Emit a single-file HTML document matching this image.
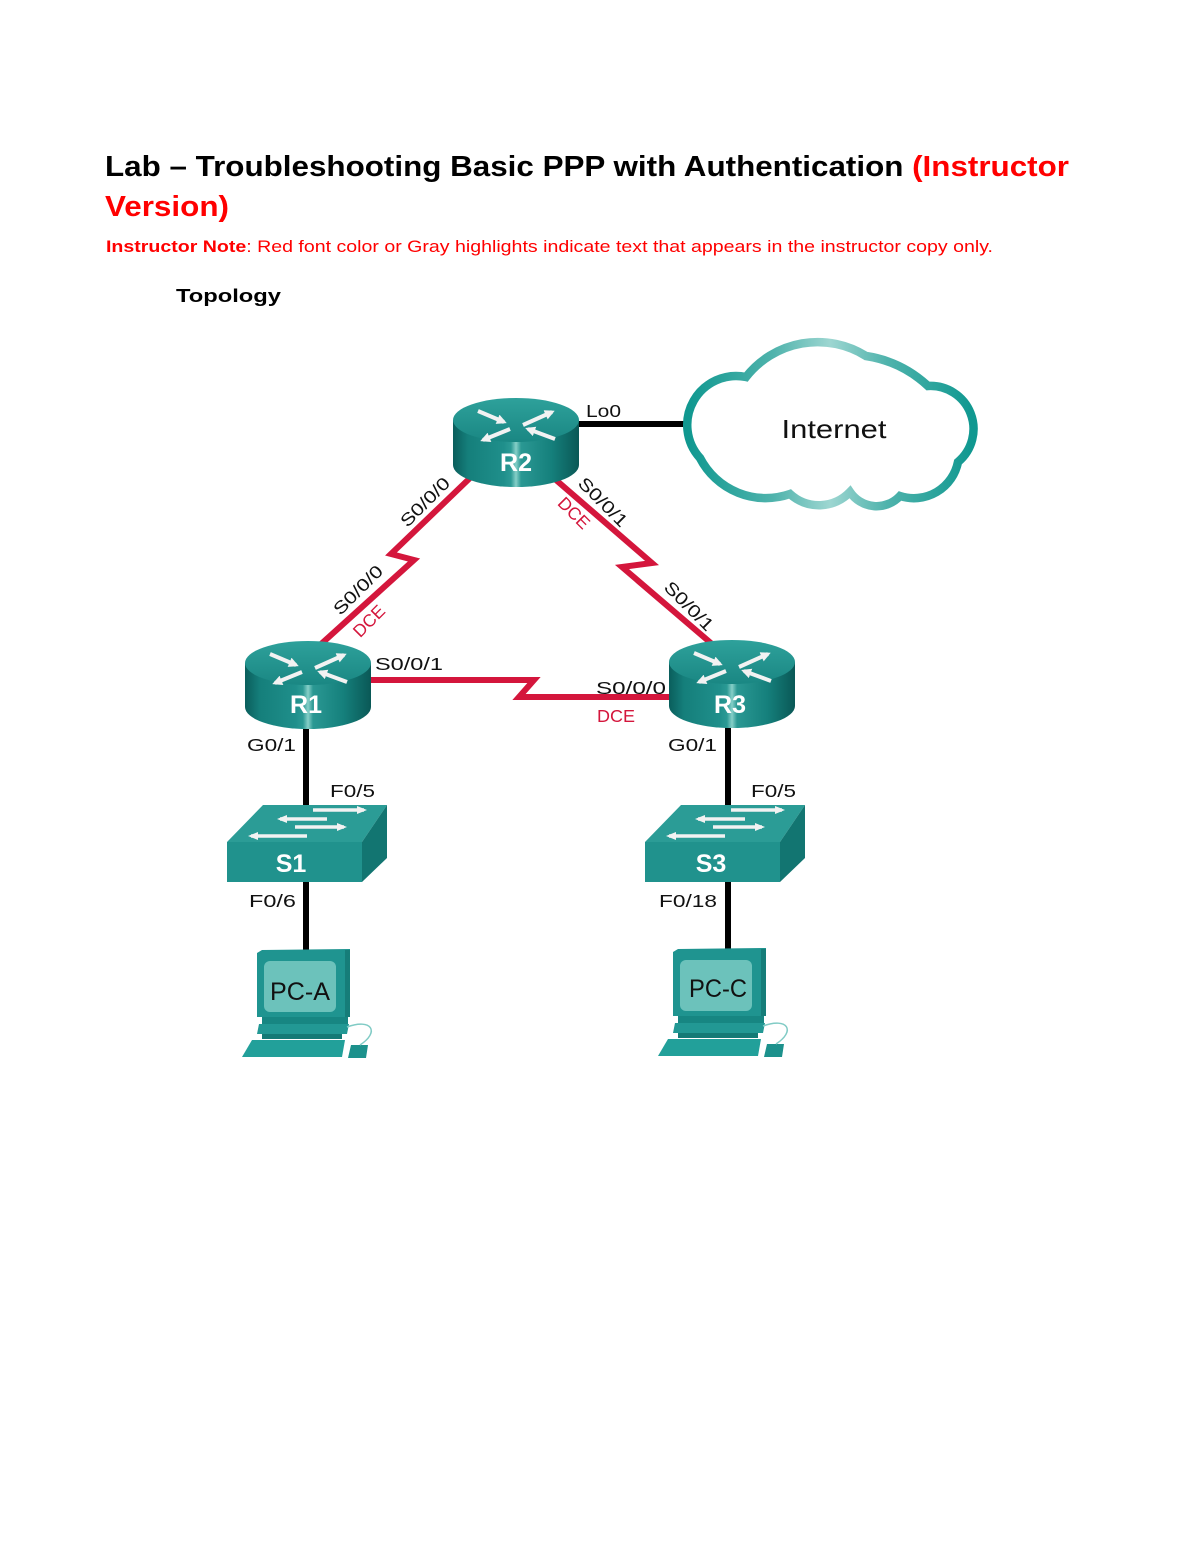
<!DOCTYPE html>
<html>
<head>
<meta charset="utf-8">
<style>
  html,body{margin:0;padding:0;background:#fff;}
  svg{display:block;}
  text{font-family:"Liberation Sans", Arial, sans-serif;}
</style>
</head>
<body>
<svg width="1200" height="1553" viewBox="0 0 1200 1553" xmlns="http://www.w3.org/2000/svg">
  <defs>
    <linearGradient id="rb" x1="0" y1="0" x2="1" y2="0">
      <stop offset="0" stop-color="#0a5e5c"/>
      <stop offset="0.12" stop-color="#157f7b"/>
      <stop offset="0.40" stop-color="#1f8f8b"/>
      <stop offset="0.46" stop-color="#2b9a95"/>
      <stop offset="0.50" stop-color="#86cfc8"/>
      <stop offset="0.54" stop-color="#2a9893"/>
      <stop offset="0.78" stop-color="#15807c"/>
      <stop offset="1" stop-color="#0a5856"/>
    </linearGradient>
    <linearGradient id="rt" x1="0" y1="0" x2="0" y2="1">
      <stop offset="0" stop-color="#2ea19b"/>
      <stop offset="1" stop-color="#1a8783"/>
    </linearGradient>
    <linearGradient id="cg" gradientUnits="userSpaceOnUse" x1="688" y1="0" x2="972" y2="0">
      <stop offset="0" stop-color="#109890"/>
      <stop offset="0.3" stop-color="#4fb3ac"/>
      <stop offset="0.5" stop-color="#9dd6d1"/>
      <stop offset="0.7" stop-color="#4fb3ac"/>
      <stop offset="1" stop-color="#109890"/>
    </linearGradient>
    <marker id="ah" markerWidth="10" markerHeight="10" refX="7" refY="5" orient="auto" markerUnits="userSpaceOnUse">
      <path d="M0,0 L10,5 L0,10 z" fill="#f2f2f2"/>
    </marker>
    <marker id="sh" markerWidth="10" markerHeight="8" refX="7" refY="4" orient="auto" markerUnits="userSpaceOnUse">
      <path d="M0,0 L10,4 L0,8 z" fill="#f2f2f2"/>
    </marker>
  </defs>

  <!-- Title -->
  <text x="105" y="176" font-size="29" font-weight="bold" textLength="964" lengthAdjust="spacingAndGlyphs"><tspan fill="#000">Lab – Troubleshooting Basic PPP with Authentication </tspan><tspan fill="#ff0000">(Instructor</tspan></text>
  <text x="105" y="216" font-size="29" font-weight="bold" fill="#ff0000" textLength="124" lengthAdjust="spacingAndGlyphs">Version)</text>
  <text x="106" y="252" font-size="17" fill="#ff0000" textLength="887" lengthAdjust="spacingAndGlyphs"><tspan font-weight="bold">Instructor Note</tspan>: Red font color or Gray highlights indicate text that appears in the instructor copy only.</text>
  <text x="176" y="302" font-size="18" font-weight="bold" fill="#000" textLength="105" lengthAdjust="spacingAndGlyphs">Topology</text>

  <!-- Black links -->
  <line x1="576" y1="424" x2="694" y2="424" stroke="#000" stroke-width="6"/>
  <line x1="306" y1="725" x2="306" y2="808" stroke="#000" stroke-width="6"/>
  <line x1="306" y1="878" x2="306" y2="953" stroke="#000" stroke-width="6"/>
  <line x1="728" y1="723" x2="728" y2="808" stroke="#000" stroke-width="6"/>
  <line x1="728" y1="878" x2="728" y2="953" stroke="#000" stroke-width="6"/>

  <!-- Red serial links -->
  <polyline points="470,478 391,554 414,560 320,645" fill="none" stroke="#d4163c" stroke-width="6" stroke-linejoin="miter"/>
  <polyline points="556,480 652,563 622,567 712,644" fill="none" stroke="#d4163c" stroke-width="6" stroke-linejoin="miter"/>
  <polyline points="365,680 534,680 519,697 672,697" fill="none" stroke="#d4163c" stroke-width="6" stroke-linejoin="miter"/>

  <!-- Cloud -->
  <path d="M 700,458
           A 49,49 0 0 1 746,377
           A 91,91 0 0 1 866,356
           A 117,117 0 0 1 928,386
           A 43,43 0 0 1 958,462
           A 45,45 0 0 1 900,496
           A 32,32 0 0 1 850,492
           A 43,43 0 0 1 790,494
           A 74,74 0 0 1 700,458 Z"
        fill="#fff" stroke="url(#cg)" stroke-width="8.5"/>
  <text x="834" y="438" font-size="26" fill="#111" text-anchor="middle" textLength="105" lengthAdjust="spacingAndGlyphs">Internet</text>

  <!-- Router R2 -->
  <g transform="translate(516,420)">
    <path d="M -63,0 L -63,45 A 63,22 0 0 0 63,45 L 63,0 Z" fill="url(#rb)"/>
    <ellipse cx="0" cy="0" rx="63" ry="22" fill="url(#rt)"/>
    <g stroke="#f2f2f2" stroke-width="4" fill="none">
      <line x1="-38" y1="-9" x2="-12" y2="2" marker-end="url(#ah)"/>
      <line x1="7" y1="5" x2="36" y2="-8" marker-end="url(#ah)"/>
      <line x1="-6" y1="9" x2="-33" y2="20" marker-end="url(#ah)"/>
      <line x1="39" y1="19" x2="12" y2="9" marker-end="url(#ah)"/>
    </g>
    <text x="0" y="51" font-size="25" font-weight="bold" fill="#fff" text-anchor="middle">R2</text>
  </g>

  <!-- Router R1 -->
  <g transform="translate(308,663)">
    <path d="M -63,0 L -63,44 A 63,22 0 0 0 63,44 L 63,0 Z" fill="url(#rb)"/>
    <ellipse cx="0" cy="0" rx="63" ry="22" fill="url(#rt)"/>
    <g stroke="#f2f2f2" stroke-width="4" fill="none">
      <line x1="-38" y1="-9" x2="-12" y2="2" marker-end="url(#ah)"/>
      <line x1="7" y1="5" x2="36" y2="-8" marker-end="url(#ah)"/>
      <line x1="-6" y1="9" x2="-33" y2="20" marker-end="url(#ah)"/>
      <line x1="39" y1="19" x2="12" y2="9" marker-end="url(#ah)"/>
    </g>
    <text x="-2" y="50" font-size="25" font-weight="bold" fill="#fff" text-anchor="middle">R1</text>
  </g>

  <!-- Router R3 -->
  <g transform="translate(732,662)">
    <path d="M -63,0 L -63,44 A 63,22 0 0 0 63,44 L 63,0 Z" fill="url(#rb)"/>
    <ellipse cx="0" cy="0" rx="63" ry="22" fill="url(#rt)"/>
    <g stroke="#f2f2f2" stroke-width="4" fill="none">
      <line x1="-38" y1="-9" x2="-12" y2="2" marker-end="url(#ah)"/>
      <line x1="7" y1="5" x2="36" y2="-8" marker-end="url(#ah)"/>
      <line x1="-6" y1="9" x2="-33" y2="20" marker-end="url(#ah)"/>
      <line x1="39" y1="19" x2="12" y2="9" marker-end="url(#ah)"/>
    </g>
    <text x="-2" y="51" font-size="25" font-weight="bold" fill="#fff" text-anchor="middle">R3</text>
  </g>

  <!-- Switch S1 -->
  <g>
    <polygon points="263,805 387,805 362,842 227,842" fill="#2b9c96"/>
    <rect x="227" y="842" width="135" height="40" fill="#20928d"/>
    <polygon points="362,842 387,805 387,858 362,882" fill="#127571"/>
    <g stroke="#f2f2f2" stroke-width="3.5" fill="none">
      <line x1="313" y1="810" x2="364" y2="810" marker-end="url(#sh)"/>
      <line x1="327" y1="819" x2="280" y2="819" marker-end="url(#sh)"/>
      <line x1="295" y1="827" x2="344" y2="827" marker-end="url(#sh)"/>
      <line x1="307" y1="836" x2="251" y2="836" marker-end="url(#sh)"/>
    </g>
    <text x="291" y="872" font-size="25" font-weight="bold" fill="#fff" text-anchor="middle">S1</text>
  </g>

  <!-- Switch S3 -->
  <g transform="translate(418,0)">
    <polygon points="263,805 387,805 362,842 227,842" fill="#2b9c96"/>
    <rect x="227" y="842" width="135" height="40" fill="#20928d"/>
    <polygon points="362,842 387,805 387,858 362,882" fill="#127571"/>
    <g stroke="#f2f2f2" stroke-width="3.5" fill="none">
      <line x1="313" y1="810" x2="364" y2="810" marker-end="url(#sh)"/>
      <line x1="327" y1="819" x2="280" y2="819" marker-end="url(#sh)"/>
      <line x1="295" y1="827" x2="344" y2="827" marker-end="url(#sh)"/>
      <line x1="307" y1="836" x2="251" y2="836" marker-end="url(#sh)"/>
    </g>
    <text x="293" y="872" font-size="25" font-weight="bold" fill="#fff" text-anchor="middle">S3</text>
  </g>

  <!-- PC-A -->
  <g>
    <polygon points="257,953 262,950 350,949 350,1017 257,1017" fill="#1f9490"/>
    <rect x="345" y="950" width="5" height="67" fill="#167d79"/>
    <rect x="264" y="961" width="72" height="51" rx="6" fill="#6cc2bb"/>
    <text x="300" y="1000" font-size="25" fill="#111" text-anchor="middle" textLength="60" lengthAdjust="spacingAndGlyphs">PC-A</text>
    <rect x="262" y="1017" width="86" height="7" fill="#178682"/>
    <polygon points="259,1024 349,1024 347,1034 257,1034" fill="#229894"/>
    <rect x="262" y="1034" width="80" height="5" fill="#147a76"/>
    <polygon points="252,1040 345,1040 342,1057 242,1057" fill="#22a09a"/>
    <polygon points="351,1045 368,1045 366,1058 348,1058" fill="#1c918c"/>
    <path d="M 347,1027 C 372,1018 380,1032 360,1045" stroke="#80cbc5" stroke-width="1.5" fill="none"/>
  </g>

  <!-- PC-C -->
  <g transform="translate(416,-1)">
    <polygon points="257,953 262,950 350,949 350,1017 257,1017" fill="#1f9490"/>
    <rect x="345" y="950" width="5" height="67" fill="#167d79"/>
    <rect x="264" y="961" width="72" height="51" rx="6" fill="#6cc2bb"/>
    <text x="302" y="998" font-size="25" fill="#111" text-anchor="middle" textLength="58" lengthAdjust="spacingAndGlyphs">PC-C</text>
    <rect x="262" y="1017" width="86" height="7" fill="#178682"/>
    <polygon points="259,1024 349,1024 347,1034 257,1034" fill="#229894"/>
    <rect x="262" y="1034" width="80" height="5" fill="#147a76"/>
    <polygon points="252,1040 345,1040 342,1057 242,1057" fill="#22a09a"/>
    <polygon points="351,1045 368,1045 366,1058 348,1058" fill="#1c918c"/>
    <path d="M 347,1027 C 372,1018 380,1032 360,1045" stroke="#80cbc5" stroke-width="1.5" fill="none"/>
  </g>

  <!-- Interface labels -->
  <g font-size="17.5" fill="#111">
    <text x="586" y="417" textLength="35" lengthAdjust="spacingAndGlyphs">Lo0</text>
    <text x="375" y="670" textLength="68" lengthAdjust="spacingAndGlyphs">S0/0/1</text>
    <text x="596" y="694" textLength="70" lengthAdjust="spacingAndGlyphs">S0/0/0</text>
    <text x="247" y="751" textLength="49" lengthAdjust="spacingAndGlyphs">G0/1</text>
    <text x="668" y="751" textLength="49" lengthAdjust="spacingAndGlyphs">G0/1</text>
    <text x="330" y="797" textLength="45" lengthAdjust="spacingAndGlyphs">F0/5</text>
    <text x="751" y="797" textLength="45" lengthAdjust="spacingAndGlyphs">F0/5</text>
    <text x="249" y="907" textLength="47" lengthAdjust="spacingAndGlyphs">F0/6</text>
    <text x="659" y="907" textLength="58" lengthAdjust="spacingAndGlyphs">F0/18</text>

    <text transform="translate(425,502) rotate(-45)" x="0" y="6" text-anchor="middle" textLength="62" lengthAdjust="spacingAndGlyphs">S0/0/0</text>
    <text transform="translate(358,590) rotate(-45)" x="0" y="6" text-anchor="middle" textLength="62" lengthAdjust="spacingAndGlyphs">S0/0/0</text>
    <text transform="translate(603,502) rotate(45)" x="0" y="6" text-anchor="middle" textLength="62" lengthAdjust="spacingAndGlyphs">S0/0/1</text>
    <text transform="translate(689,606) rotate(45)" x="0" y="6" text-anchor="middle" textLength="62" lengthAdjust="spacingAndGlyphs">S0/0/1</text>
  </g>
  <g font-size="17.5" fill="#d4163c">
    <text x="597" y="722" textLength="38" lengthAdjust="spacingAndGlyphs">DCE</text>
    <text transform="translate(369,621) rotate(-45)" x="0" y="6" text-anchor="middle" textLength="37" lengthAdjust="spacingAndGlyphs">DCE</text>
    <text transform="translate(574,513) rotate(45)" x="0" y="6" text-anchor="middle" textLength="37" lengthAdjust="spacingAndGlyphs">DCE</text>
  </g>
</svg>
</body>
</html>
